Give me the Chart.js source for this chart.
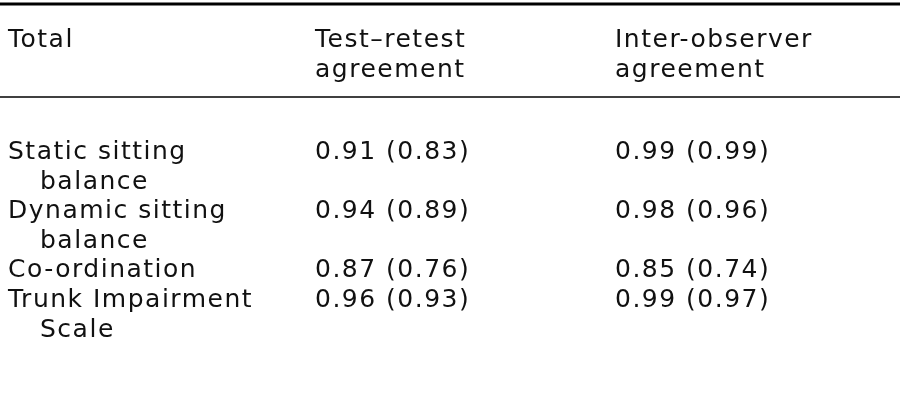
<!DOCTYPE html>
<html><head><meta charset="utf-8">
<script src="https://cdn.jsdelivr.net/npm/chart.js@4"></script>
<style>html,body{margin:0;padding:0;background:#fff}</style>
</head><body>
<canvas id="c" width="915" height="407"></canvas>
<script>
const headers = [["Total"], ["Test\u2013retest", "agreement"], ["Inter-observer", "agreement"]];
const categories = [["Static sitting", "balance"], ["Dynamic sitting", "balance"], ["Co-ordination"], ["Trunk Impairment", "Scale"]];
const testRetest = ["0.91 (0.83)", "0.94 (0.89)", "0.87 (0.76)", "0.96 (0.93)"];
const interObserver = ["0.99 (0.99)", "0.98 (0.96)", "0.85 (0.74)", "0.99 (0.97)"];

const colX = [8, 315, 615];
const lineH = 30.5;
const tablePlugin = {
  id: 'table',
  afterDraw(chart) {
    const ctx = chart.ctx;
    const xs = chart.scales.x, ys = chart.scales.y;
    ctx.save();
    ctx.fillStyle = '#111';
    ctx.strokeStyle = '#000';
    ctx.lineWidth = 3;
    ctx.beginPath(); ctx.moveTo(xs.getPixelForValue(0), ys.getPixelForValue(4)); ctx.lineTo(xs.getPixelForValue(900), ys.getPixelForValue(4)); ctx.stroke();
    ctx.lineWidth = 1.3;
    ctx.beginPath(); ctx.moveTo(xs.getPixelForValue(0), ys.getPixelForValue(97)); ctx.lineTo(xs.getPixelForValue(900), ys.getPixelForValue(97)); ctx.stroke();
    ctx.font = '25px "DejaVu Sans", sans-serif';
    ctx.letterSpacing = '1.5px';
    ctx.textBaseline = 'middle';
    headers.forEach((h, i) => h.forEach((t, j) => ctx.fillText(t, xs.getPixelForValue(colX[i]), ys.getPixelForValue(40 + j * lineH))));
    let y = 152;
    categories.forEach((c, r) => {
      c.forEach((t, j) => ctx.fillText(t, xs.getPixelForValue(colX[0] + (j ? 32 : 0)), ys.getPixelForValue(y + j * lineH)));
      ctx.fillText(testRetest[r], xs.getPixelForValue(colX[1]), ys.getPixelForValue(y));
      ctx.fillText(interObserver[r], xs.getPixelForValue(colX[2]), ys.getPixelForValue(y));
      y += (c.length === 2 ? 59 : 30);
    });
    ctx.restore();
  }
};
new Chart(document.getElementById('c'), {
  type: 'scatter',
  data: { datasets: [{ data: [] }] },
  options: {
    responsive: false, animation: false,
    layout: { padding: 0 },
    plugins: { legend: { display: false }, tooltip: { enabled: false } },
    scales: {
      x: { type: 'linear', min: 0, max: 915, display: false },
      y: { type: 'linear', min: 0, max: 407, reverse: true, display: false }
    }
  },
  plugins: [tablePlugin]
});
</script>
</body></html>
